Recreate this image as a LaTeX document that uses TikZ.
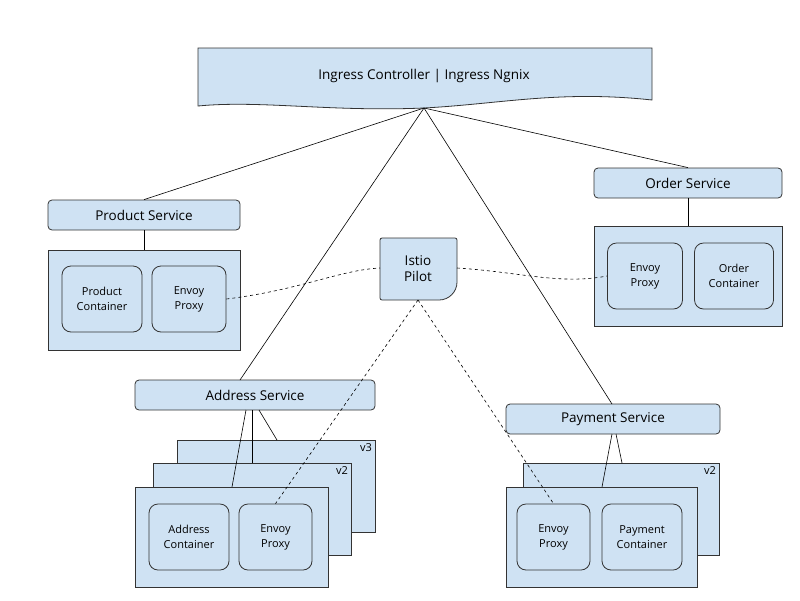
\documentclass[tikz,border=0pt]{standalone}
\usepackage{fontspec}
\setmainfont{Open Sans}
\definecolor{boxblue}{HTML}{CFE2F3}
\definecolor{edge}{HTML}{333333}
\tikzset{
  svc/.style={draw=edge,fill=boxblue,rounded corners=4pt,line width=0.8pt},
  pod/.style={draw=edge,fill=boxblue,line width=0.8pt},
  ctr/.style={draw=edge,fill=boxblue,rounded corners=9pt,line width=0.8pt,align=center,font=\fontsize{11}{15}\selectfont},
  link/.style={draw=black,line width=0.6pt},
  ctl/.style={draw=black,line width=0.6pt,dashed}
}
\begin{document}
\begin{tikzpicture}[x=1pt,y=-1pt,font=\fontsize{13.5}{16}\selectfont]
\useasboundingbox (0,0) rectangle (800,600);
% ingress
\draw[pod] (198,48) -- (652,48) -- (652,100) .. controls (560,90) and (500,104) .. (424,108)
  .. controls (330,112) and (260,100) .. (198,106) -- cycle;
\node (ingress) at (424,76) {Ingress Controller | Ingress Ngnix};
\coordinate (apex) at (424,108);
% product
\node[svc,minimum width=192pt,minimum height=30pt] (prodsvc) at (144,215) {Product Service};
\node[pod,minimum width=192pt,minimum height=100pt] (prodpod) at (144,300) {};
\node[ctr,minimum width=80pt,minimum height=66pt] (prodctr) at (102,299) {Product\\Container};
\node[ctr,minimum width=74pt,minimum height=66pt] (prodenv) at (189,299) {Envoy\\Proxy};
% order
\node[svc,minimum width=188pt,minimum height=30pt] (ordsvc) at (688,183) {Order Service};
\node[pod,minimum width=188pt,minimum height=100pt] (ordpod) at (688,276) {};
\node[ctr,minimum width=75pt,minimum height=66pt] (ordenv) at (645,276) {Envoy\\Proxy};
\node[ctr,minimum width=79pt,minimum height=66pt] (ordctr) at (734,276) {Order\\Container};
% pilot
\draw[pod,rounded corners=2pt] (380,238) -- (457,238) -- (457,280) [rounded corners=18pt] -- (457,300) [rounded corners=2pt] -- (380,300) -- cycle;
\node[align=center] (pilot) at (418,269) {Istio\\Pilot};
% address
\node[svc,minimum width=240pt,minimum height=30pt] (addrsvc) at (255,395) {Address Service};
\node[pod,minimum width=198pt,minimum height=92pt] (addr3) at (276,486) {};
\node[anchor=north east,font=\fontsize{11}{13}\selectfont] at (addr3.north east) {v3};
\node[pod,minimum width=198pt,minimum height=92pt] (addr2) at (252,509) {};
\node[anchor=north east,font=\fontsize{11}{13}\selectfont] at (addr2.north east) {v2};
\node[pod,minimum width=193pt,minimum height=100pt] (addr1) at (231.5,537) {};
\node[ctr,minimum width=80pt,minimum height=66pt] (addrctr) at (189,537) {Address\\Container};
\node[ctr,minimum width=73pt,minimum height=66pt] (addrenv) at (275.5,537) {Envoy\\Proxy};
% payment
\node[svc,minimum width=214pt,minimum height=30pt] (paysvc) at (613,419) {Payment Service};
\node[pod,minimum width=196pt,minimum height=92pt] (pay2) at (621,509) {};
\node[anchor=north east,font=\fontsize{11}{13}\selectfont] at (pay2.north east) {v2};
\node[pod,minimum width=191pt,minimum height=100pt] (pay1) at (601.5,537) {};
\node[ctr,minimum width=73pt,minimum height=66pt] (payenv) at (553.5,537) {Envoy\\Proxy};
\node[ctr,minimum width=80pt,minimum height=66pt] (payctr) at (642,537) {Payment\\Container};
% links
\draw[link] (apex) -- (prodsvc.north);
\draw[link] (apex) -- (ordsvc.north);
\draw[link] (apex) -- (240,380);
\draw[link] (apex) -- (612,404);
\draw[link] (prodsvc) -- (prodpod);
\draw[link] (ordsvc) -- (ordpod);
\draw[link] (246,410) -- (232,487);
\draw[link] (252,410) -- (252,463);
\draw[link] (259,410) -- (277,440);
\draw[link] (612,434) -- (602,487);
\draw[link] (616,434) -- (622,463);
% control plane
\draw[ctl] (prodenv.east) .. controls (300,290) and (340,270) .. (380,268);
\draw[ctl] (457,268) .. controls (520,272) and (560,285) .. (ordenv.west);
\draw[ctl] (418,300) -- (addrenv.north);
\draw[ctl] (418,300) -- (payenv.north);
\end{tikzpicture}
\end{document}
